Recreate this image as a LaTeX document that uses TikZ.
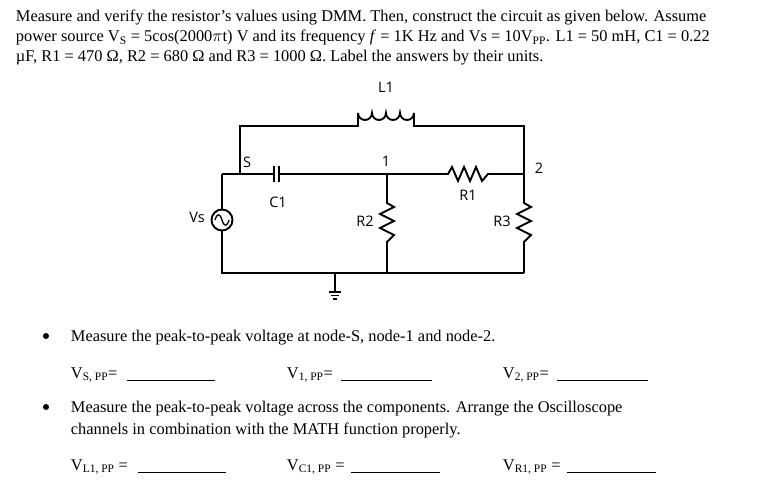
\documentclass[tikz,border=0pt]{standalone}
\usepackage{fontspec}
\setmainfont{Liberation Serif}
\newfontfamily\cs{Open Sans}
\begin{document}
\begin{tikzpicture}[x=1pt,y=-1pt,line width=1.9pt,
 txt/.style={anchor=base west,inner sep=0pt,font=\fontsize{16.4}{19}\selectfont},
 lab/.style={inner sep=1pt,font=\cs\fontsize{14.5}{16}\selectfont},
 blank/.style={line width=0.9pt}]
\useasboundingbox (0,0) rectangle (781,489);
% text
\node[txt] (t1) at (15,22) {Measure and verify the resistor’s values using DMM. Then, construct the circuit as given below. Assume};
\node[txt] (t2) at (15,42) {power source V\textsubscript{S} = 5cos(2000$\pi$t) V and its frequency \textit{f} = 1K Hz and Vs = 10V\textsubscript{PP}. L1 = 50 mH, C1 = 0.22};
\node[txt] (t3) at (15,62) {µF, R1 = 470 Ω, R2 = 680 Ω and R3 = 1000 Ω. Label the answers by their units.};
% circuit coordinates
\coordinate (tl) at (240,126); \coordinate (tr) at (524,126);
\coordinate (S) at (240,174); \coordinate (sl) at (222,174);
\coordinate (n1) at (387,174); \coordinate (n2) at (524,174);
\coordinate (bl) at (222,273); \coordinate (b1) at (387,273); \coordinate (br) at (524,273);
\coordinate (gnd) at (335,273);
% top with inductor
\draw (S) -- (tl) -- (358,126) -- (358,113)
  arc[start angle=180,end angle=0,radius=7] arc[start angle=180,end angle=0,radius=7]
  arc[start angle=180,end angle=0,radius=7] arc[start angle=180,end angle=0,radius=7]
  -- (414,126) -- (tr) -- (n2);
\node[lab] (L1) at (386,87) {L1};
% middle
\draw (sl) -- (S) -- (274,174);
\draw (274,166) -- (274,182) (279,166) -- (279,182);
\draw (279,174) -- (n1) -- (448,174) -- (452,167) -- (458,181) -- (464,167) -- (470,181) -- (476,167) -- (482,181) -- (488,174) -- (n2);
\node[lab] (Sl) at (247,162) {S};
\node[lab] (C1) at (278,202) {C1};
\node[lab] (one) at (386,161) {1};
\node[lab] (R1) at (468,195) {R1};
\node[lab] (two) at (539,168) {2};
% R2
\draw (n1) -- (387,203) -- (394,207) -- (380,214) -- (394,221) -- (380,228) -- (394,235) -- (387,242) -- (b1);
\node[lab] (R2) at (365,221) {R2};
% R3
\draw (n2) -- (524,203) -- (531,207) -- (517,214) -- (531,221) -- (517,228) -- (531,235) -- (524,242) -- (br);
\node[lab] (R3) at (502,221) {R3};
% source
\node[circle,draw,minimum size=21pt,inner sep=0pt] (vs) at (222,220) {};
\draw[line width=1.3pt] (215,220) .. controls (217,213) and (220,213) .. (222,220) .. controls (224,227) and (227,227) .. (229,220);
\draw (sl) -- (vs.north); \draw (vs.south) -- (bl) -- (br);
\node[lab] (Vs) at (197,217) {Vs};
% ground
\draw (gnd) -- (335,292);
\draw (329,292) -- (341,292) (331,295.5) -- (339,295.5) (333,299) -- (337,299);
% bullets
\fill (46,336) circle (3);
\node[txt] (q1) at (70,341) {Measure the peak-to-peak voltage at node-S, node-1 and node-2.};
\node[txt] (a1) at (70,378) {V\textsubscript{S, PP}=};
\draw[blank] (127,380) -- (215,380);
\node[txt] (a2) at (286,378) {V\textsubscript{1, PP}=};
\draw[blank] (341,380) -- (432,380);
\node[txt] (a3) at (502,378) {V\textsubscript{2, PP}=};
\draw[blank] (557,380) -- (648,380);
\fill (46,407) circle (3);
\node[txt] (q2) at (70,412) {Measure the peak-to-peak voltage across the components. Arrange the Oscilloscope};
\node[txt] (q3) at (70,434) {channels in combination with the MATH function properly.};
\node[txt] (b1t) at (70,470) {V\textsubscript{L1, PP} =};
\draw[blank] (138,472) -- (226,472);
\node[txt] (b2t) at (286,470) {V\textsubscript{C1, PP} =};
\draw[blank] (351,472) -- (440,472);
\node[txt] (b3t) at (502,470) {V\textsubscript{R1, PP} =};
\draw[blank] (567,472) -- (656,472);
\end{tikzpicture}
\end{document}
